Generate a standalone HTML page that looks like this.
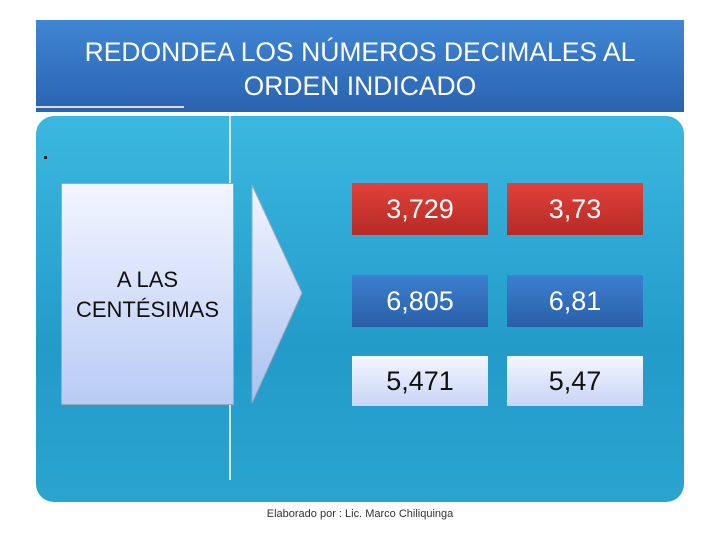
<!DOCTYPE html>
<html><head><meta charset="utf-8"><style>
body{margin:0;width:720px;height:540px;background:#fff;position:relative;overflow:hidden;font-family:"Liberation Sans",sans-serif}
div{box-sizing:border-box;position:absolute}
.title{left:36px;top:20px;width:648px;height:92px;background:linear-gradient(#3f86d4,#2a63b0);color:#fff;font-size:26.5px;text-align:center;line-height:34px;padding-top:15px}
.panel{left:36px;top:116px;width:648px;height:386px;border-radius:18px;background:linear-gradient(#3bb8e0,#239bc9 60%,#2aa4cf)}
.cell{width:136px;height:52px;font-size:27px;text-align:center;line-height:52px}
.red{background:linear-gradient(#e0413a,#b82a26);color:#fff}
.blue{background:linear-gradient(#3d7fd0,#2a5fa8);color:#fff}
.light{background:linear-gradient(#f4f6ff,#c9d5f6);color:#111}
</style></head><body>
<div class="title">REDONDEA LOS NÚMEROS DECIMALES AL<br>ORDEN INDICADO</div>
<div style="left:36px;top:106px;width:148px;height:2px;background:#dde"></div>
<div class="panel"></div>
<div style="left:44px;top:156px;width:3px;height:3px;background:#222"></div>
<div style="left:229px;top:116px;width:2px;height:364px;background:#cfe8f5"></div>
<div style="left:61px;top:183px;width:173px;height:222px;background:linear-gradient(#f3f5ff,#b9cbf5);border:1px solid #9ab;font-size:22px;text-align:center;padding-top:81px;line-height:30px;color:#111">A LAS<br>CENTÉSIMAS</div>
<svg style="position:absolute;left:250px;top:183px" width="56" height="224"><defs><linearGradient id="g" x1="0" y1="0" x2="0" y2="1"><stop offset="0" stop-color="#f2f5ff"/><stop offset="1" stop-color="#a9c1f2"/></linearGradient></defs><polygon points="2,2 52,110 2,220" fill="url(#g)" stroke="#9ab" stroke-width="1"/></svg>
<div class="cell red" style="left:352px;top:183px">3,729</div>
<div class="cell red" style="left:507px;top:183px">3,73</div>
<div class="cell blue" style="left:352px;top:275px">6,805</div>
<div class="cell blue" style="left:507px;top:275px">6,81</div>
<div class="cell light" style="left:352px;top:356px;height:50px;line-height:50px">5,471</div>
<div class="cell light" style="left:507px;top:356px;height:50px;line-height:50px">5,47</div>
<div style="left:180px;top:508px;width:360px;text-align:center;font-size:11px;color:#333">Elaborado por : Lic. Marco Chiliquinga</div>
</body></html>
